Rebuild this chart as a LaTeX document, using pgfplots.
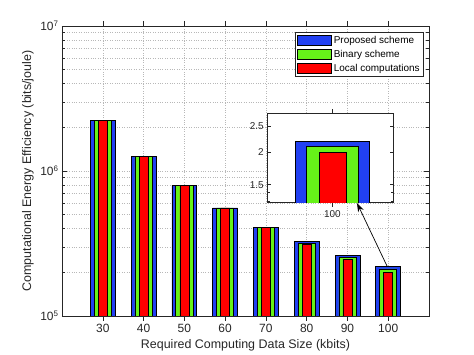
\documentclass[border=0pt]{standalone}
\usepackage{pgfplots}
\pgfplotsset{compat=1.18}
\usepackage{fontspec}
\setmainfont{Liberation Sans}
\usetikzlibrary{arrows.meta}
\definecolor{cblue}{rgb}{0.13,0.25,0.95}
\definecolor{cgreen}{rgb}{0.40,0.95,0.10}
\definecolor{cred}{rgb}{1,0,0}
\definecolor{gridc}{rgb}{0.72,0.72,0.72}
\definecolor{axc}{rgb}{0.15,0.15,0.15}
\pgfplotsset{mylegend/.style={legend image code/.code={\draw[#1, draw=black, line width=0.6pt] (0bp,-5bp) rectangle (34bp,5bp);}}}
\begin{document}
\begin{tikzpicture}
\path[use as bounding box] (-62bp,-39bp) rectangle (412bp,316bp);
\begin{axis}[
  at={(0,0)}, anchor=south west,
  scale only axis, width=367bp, height=290bp,
  xmin=20, xmax=110, ymode=log, ymin=1e5, ymax=1e7,
  xtick={30,40,50,60,70,80,90,100},
  ytick={1e5,1e6,1e7},
  yticklabels={10\textsuperscript{5},10\textsuperscript{6},10\textsuperscript{7}},
  minor ytick={2e5,3e5,4e5,5e5,6e5,7e5,8e5,9e5,2e6,3e6,4e6,5e6,6e6,7e6,8e6,9e6},
  /pgf/number format/assume math mode=true,
  tick label style={font=\fontsize{12}{14}\selectfont, color=axc},
  label style={font=\fontsize{12.5}{15}\selectfont, color=axc},
  xlabel={Required Computing Data Size (kbits)},
  ylabel={Computational Energy Efficiency (bits/joule)},
  xlabel style={at={(axis description cs:0.5,-0.1)}, anchor=center},
  ylabel style={at={(axis description cs:-0.093,0.5)}, anchor=center, rotate=0},
  grid=both,
  major grid style={dotted, color=gridc, line width=0.5pt},
  minor grid style={dotted, color=gridc, line width=0.5pt},
  axis line style={color=axc, line width=0.7pt},
  tick style={color=axc, line width=0.5pt},
  major tick length=5bp, minor tick length=3bp,
  legend cell align=left,
  legend style={at={(0.986,0.978)}, anchor=north east, font=\fontsize{10}{12}\selectfont,
    draw=axc, fill=white, inner xsep=2bp, inner ysep=1.5bp, row sep=1.2bp},
  ybar,
]
\addplot[fill=cblue, draw=black, line width=0.6pt, bar width=6.1, bar shift=0pt, mylegend] coordinates {
 (30,2.22e6) (40,1.256e6) (50,8.0e5) (60,5.56e5) (70,4.09e5) (80,3.25e5) (90,2.61e5) (100,2.19e5)};
\addlegendentry{Proposed scheme}
\addplot[fill=cgreen, draw=black, line width=0.6pt, bar width=4.2, bar shift=0pt, mylegend] coordinates {
 (30,2.22e6) (40,1.256e6) (50,8.0e5) (60,5.56e5) (70,4.09e5) (80,3.18e5) (90,2.55e5) (100,2.11e5)};
\addlegendentry{Binary scheme}
\addplot[fill=cred, draw=black, line width=0.6pt, bar width=2.2, bar shift=0pt, mylegend] coordinates {
 (30,2.22e6) (40,1.256e6) (50,8.0e5) (60,5.56e5) (70,4.09e5) (80,3.11e5) (90,2.47e5) (100,2.0e5)};
\addlegendentry{Local computations}
\end{axis}
\begin{axis}[
  at={(205.3bp,113.3bp)}, anchor=south west,
  scale only axis, width=126.4bp, height=89.4bp,
  xmin=94.7, xmax=105, ymode=log, ymin=1.28e5, ymax=2.81e5,
  xtick={100},
  ytick={1.5e5,2e5,2.5e5},
  yticklabels={1.5,2,2.5},
  minor ytick={1.3e5,1.4e5},
  /pgf/number format/assume math mode=true,
  tick label style={font=\fontsize{10}{12}\selectfont, color=axc},
  axis background/.style={fill=white},
  axis line style={color=axc, line width=0.7pt},
  tick style={color=axc, line width=0.5pt},
  major tick length=4bp, minor tick length=2.5bp,
  ybar,
]
\addplot[fill=cblue, draw=black, line width=0.6pt, bar width=6.1, bar shift=0pt] coordinates {(100,2.19e5)};
\addplot[fill=cgreen, draw=black, line width=0.6pt, bar width=4.2, bar shift=0pt] coordinates {(100,2.11e5)};
\addplot[fill=cred, draw=black, line width=0.6pt, bar width=2.2, bar shift=0pt] coordinates {(100,2.0e5)};
\node[anchor=south west, inner sep=0pt, font=\fontsize{10}{12}\selectfont, color=axc] at (rel axis cs:0,1.03) {×10\textsuperscript{5}};
\end{axis}
\draw[black, line width=0.7pt, -{Stealth[length=9bp, width=6bp]}] (325bp,50bp) -- (295bp,113bp);
\end{tikzpicture}
\end{document}
